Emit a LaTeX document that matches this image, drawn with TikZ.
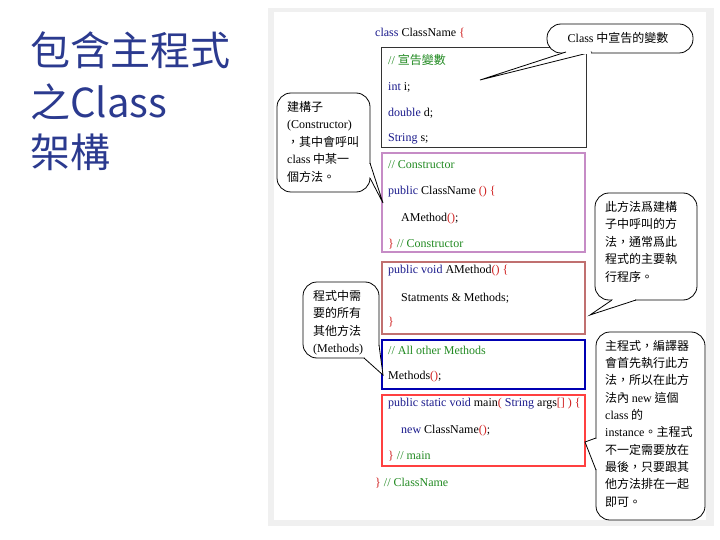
\documentclass[tikz,border=0pt]{standalone}
\usepackage{fontspec}
\setmainfont{Liberation Serif}
\newfontfamily\cjk{Noto Sans CJK TC}
\definecolor{kw}{HTML}{1A1A8C}
\definecolor{cm}{HTML}{238B23}
\definecolor{br}{HTML}{D02020}
\definecolor{ttl}{HTML}{2B3A8F}
\definecolor{amb}{HTML}{C07070}
\begin{document}
\begin{tikzpicture}[x=1pt,y=-1pt,
  code/.style={anchor=west,inner sep=0pt,font=\fontsize{12}{14}\selectfont},
  cbox/.style={line width=1.1pt},
  bub/.style={draw=black,fill=white,rounded corners=14pt,line width=0.8pt},
  btxt/.style={anchor=north west,inner sep=0pt,align=left,font=\cjk\fontsize{12}{17.5}\selectfont},
  ptr/.style={draw=black,fill=white,line width=0.8pt,line join=miter}]
\useasboundingbox (0,0) rectangle (720,540);
\fill[white] (0,0) rectangle (720,540);
\fill[gray!12] (268,8) rectangle (714,526);
\fill[white] (274,12) rectangle (706,520);
% title
\node[anchor=north west,align=left,inner sep=0pt,text=ttl,font=\cjk\fontsize{40}{51}\selectfont] (title) at (30,32) {包含主程式\\之Class\\架構};
% code boxes
\draw[line width=0.9pt,black!80] (381,47) rectangle (586,147);
\draw[cbox,violet!45] (382,153) rectangle (585,252);
\draw[cbox,amb] (382,262) rectangle (585,334);
\draw[cbox,blue!70!black] (382,340) rectangle (585,389);
\draw[cbox,red!75] (382,395) rectangle (585,466);
% code text
\node[code] (l1) at (375,33) {\textcolor{kw}{class} ClassName \textcolor{br}{\{}};
\node[code] (l2) at (388,60) {\textcolor{cm}{// {\cjk 宣告變數}}};
\node[code] (l3) at (388,87) {\textcolor{kw}{int} i;};
\node[code] (l4) at (388,113) {\textcolor{kw}{double} d;};
\node[code] (l5) at (388,139) {\textcolor{kw}{String} s;};
\node[code] (l6) at (388,165) {\textcolor{cm}{// Constructor}};
\node[code] (l7) at (388,192) {\textcolor{kw}{public} ClassName \textcolor{br}{() \{}};
\node[code] (l8) at (401,219) {AMethod\textcolor{br}{()};};
\node[code] (l9) at (388,244) {\textcolor{br}{\}} \textcolor{cm}{// Constructor}};
\node[code] (l10) at (388,271) {\textcolor{kw}{public void} AMethod\textcolor{br}{() \{}};
\node[code] (l11) at (401,298) {Statments \& Methods;};
\node[code] (l12) at (388,322) {\textcolor{br}{\}}};
\node[code] (l13) at (388,350) {\textcolor{cm}{// All other Methods}};
\node[code] (l14) at (388,377) {Methods\textcolor{br}{()};};
\node[code] (l15) at (388,404) {\textcolor{kw}{public static void} main\textcolor{br}{(} \textcolor{kw}{String} args\textcolor{br}{[] ) \{}};
\node[code] (l16) at (401,431) {\textcolor{kw}{new} ClassName\textcolor{br}{()};};
\node[code] (l17) at (388,456) {\textcolor{br}{\}} \textcolor{cm}{// main}};
\node[code] (l18) at (375,483) {\textcolor{br}{\}} \textcolor{cm}{// ClassName}};
% bubble 1
\draw[bub] (547,24) rectangle (693,53);
\draw[ptr] (566,52) -- (480,80) -- (592,52);
\draw[white,line width=1.2pt] (567,53) -- (591,53);
\node[anchor=center,inner sep=0pt,font=\cjk\fontsize{12}{14}\selectfont] (b1) at (618,38) {{\rmfamily Class} 中宣告的變數};
% bubble 2
\draw[bub] (277,93) rectangle (370,192);
\draw[ptr] (370,163) -- (383,203) -- (370,178);
\draw[white,line width=1.2pt] (369,164) -- (369,177);
\node[btxt] (b2) at (287,101) {建構子\\{\rmfamily\fontsize{12}{12}\selectfont(Constructor)}\\，其中會呼叫\\{\rmfamily class} 中某一\\個方法。};
% bubble 3
\draw[bub] (595,193) rectangle (697,300);
\draw[ptr] (612,300) -- (590,315) -- (636,300);
\draw[white,line width=1.2pt] (613,299.5) -- (635,299.5);
\node[btxt] (b3) at (605,201) {此方法爲建構\\子中呼叫的方\\法，通常爲此\\程式的主要執\\行程序。};
% bubble 4
\draw[bub] (303,282) rectangle (379,358);
\draw[ptr] (364,358) -- (383,375) -- (379,345);
\draw[white,line width=1.2pt] (366,357.5) -- (378.5,357.5) -- (378.5,347);
\node[btxt] (b4) at (313,290) {程式中需\\要的所有\\其他方法\\{\rmfamily(Methods)}};
% bubble 5
\draw[bub] (596,332) rectangle (705,520);
\draw[ptr] (596,438) -- (585,442) -- (596,470);
\draw[white,line width=1.2pt] (596.5,439) -- (596.5,469);
\node[btxt,font=\cjk\fontsize{12}{17.3}\selectfont] (b5) at (605,340) {主程式，編譯器\\會首先執行此方\\法，所以在此方\\法內 {\rmfamily new} 這個\\{\rmfamily class} 的\\{\rmfamily instance}。主程式\\不一定需要放在\\最後，只要跟其\\他方法排在一起\\即可。};
\end{tikzpicture}
\end{document}
